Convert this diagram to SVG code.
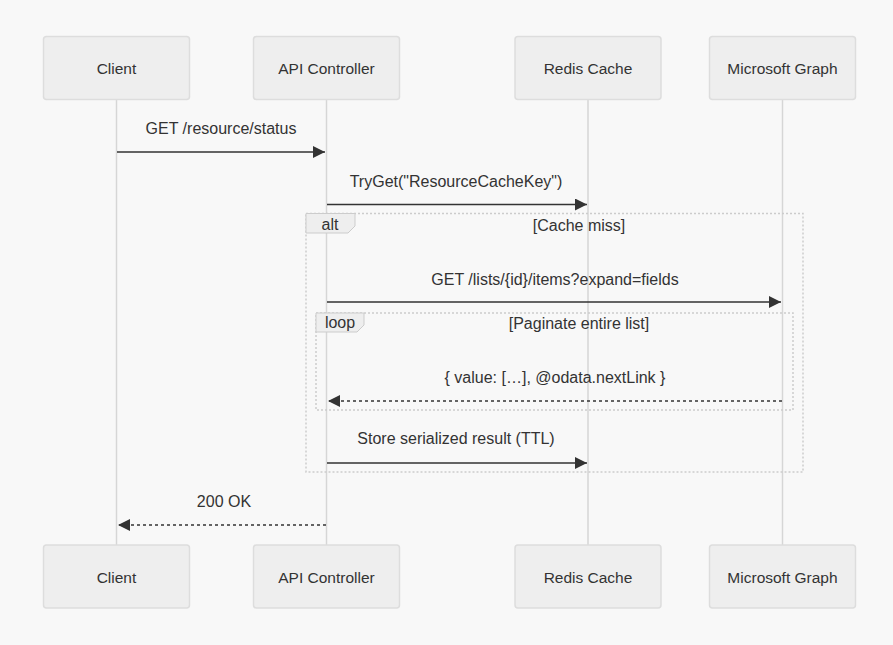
<svg xmlns="http://www.w3.org/2000/svg" width="893" height="645" viewBox="0 0 893 645">
<defs>
<style>
text{font-family:"Liberation Sans",Arial,sans-serif;fill:#333;font-size:16px}
.actor text{font-size:15.5px}
.actor rect{fill:#eee;stroke:#ddd;stroke-width:1.5}
.actor text{text-anchor:middle;dominant-baseline:central}
.life{stroke:#d6d6d6;stroke-width:1.5}
.msg{stroke:#333;stroke-width:1.5;fill:none}
.dash{stroke-dasharray:3,3}
.msgt{text-anchor:middle}
.frame{fill:none;stroke:#ccc;stroke-width:1.5;stroke-dasharray:2,2}
.tab{fill:#eee;stroke:#ccc;stroke-width:1}
</style>
<marker id="ah" viewBox="0 0 10 10" refX="10" refY="5" markerWidth="12" markerHeight="12" markerUnits="userSpaceOnUse" orient="auto"><path d="M0,0L10,5L0,10z" fill="#333"/></marker>
</defs>
<rect width="893" height="645" fill="#f8f8f8"/>
<g id="lifelines">
<line class="life" x1="116.5" y1="100" x2="116.5" y2="545"/>
<line class="life" x1="326.5" y1="100" x2="326.5" y2="545"/>
<line class="life" x1="588" y1="100" x2="588" y2="545"/>
<line class="life" x1="782.5" y1="100" x2="782.5" y2="545"/>
</g>
<g id="frames">
<rect class="frame" x="306" y="213.5" width="497" height="258.5"/>
<path class="tab" d="M306,213.5H355V226L348,233H306Z"/>
<text x="330" y="230" text-anchor="middle">alt</text>
<text x="579" y="231" text-anchor="middle">[Cache miss]</text>
<rect class="frame" x="316" y="313" width="477" height="97"/>
<path class="tab" d="M316,313H364V325L357,332H316Z"/>
<text x="340" y="328" text-anchor="middle">loop</text>
<text x="579" y="329" text-anchor="middle">[Paginate entire list]</text>
</g>
<g id="connectors">
<line class="msg" x1="117" y1="152" x2="325" y2="152" marker-end="url(#ah)"/>
<text class="msgt" x="221" y="134">GET /resource/status</text>
<line class="msg" x1="327" y1="204.5" x2="587" y2="204.5" marker-end="url(#ah)"/>
<text class="msgt" x="456" y="187">TryGet("ResourceCacheKey")</text>
<line class="msg" x1="327" y1="302" x2="781" y2="302" marker-end="url(#ah)"/>
<text class="msgt" x="555" y="285">GET /lists/{id}/items?expand=fields</text>
<line class="msg dash" x1="782" y1="401" x2="328" y2="401" marker-end="url(#ah)"/>
<text class="msgt" x="555" y="383">{ value: […], @odata.nextLink }</text>
<line class="msg" x1="327" y1="463" x2="587" y2="463" marker-end="url(#ah)"/>
<text class="msgt" x="456" y="444">Store serialized result (TTL)</text>
<line class="msg dash" x1="326" y1="525" x2="118" y2="525" marker-end="url(#ah)"/>
<text class="msgt" x="224" y="507">200 OK</text>
</g>
<g id="client" class="actor"><rect x="43.5" y="36.5" width="146" height="63" rx="3"/><text x="116.5" y="68">Client</text></g>
<g id="api" class="actor"><rect x="253.5" y="36.5" width="146" height="63" rx="3"/><text x="326.5" y="68">API Controller</text></g>
<g id="redis" class="actor"><rect x="515" y="36.5" width="146" height="63" rx="3"/><text x="588" y="68">Redis Cache</text></g>
<g id="graph" class="actor"><rect x="709.5" y="36.5" width="146" height="63" rx="3"/><text x="782.5" y="68">Microsoft Graph</text></g>
<g id="client-b" class="actor"><rect x="43.5" y="545" width="146" height="63" rx="3"/><text x="116.5" y="577">Client</text></g>
<g id="api-b" class="actor"><rect x="253.5" y="545" width="146" height="63" rx="3"/><text x="326.5" y="577">API Controller</text></g>
<g id="redis-b" class="actor"><rect x="515" y="545" width="146" height="63" rx="3"/><text x="588" y="577">Redis Cache</text></g>
<g id="graph-b" class="actor"><rect x="709.5" y="545" width="146" height="63" rx="3"/><text x="782.5" y="577">Microsoft Graph</text></g>
</svg>
